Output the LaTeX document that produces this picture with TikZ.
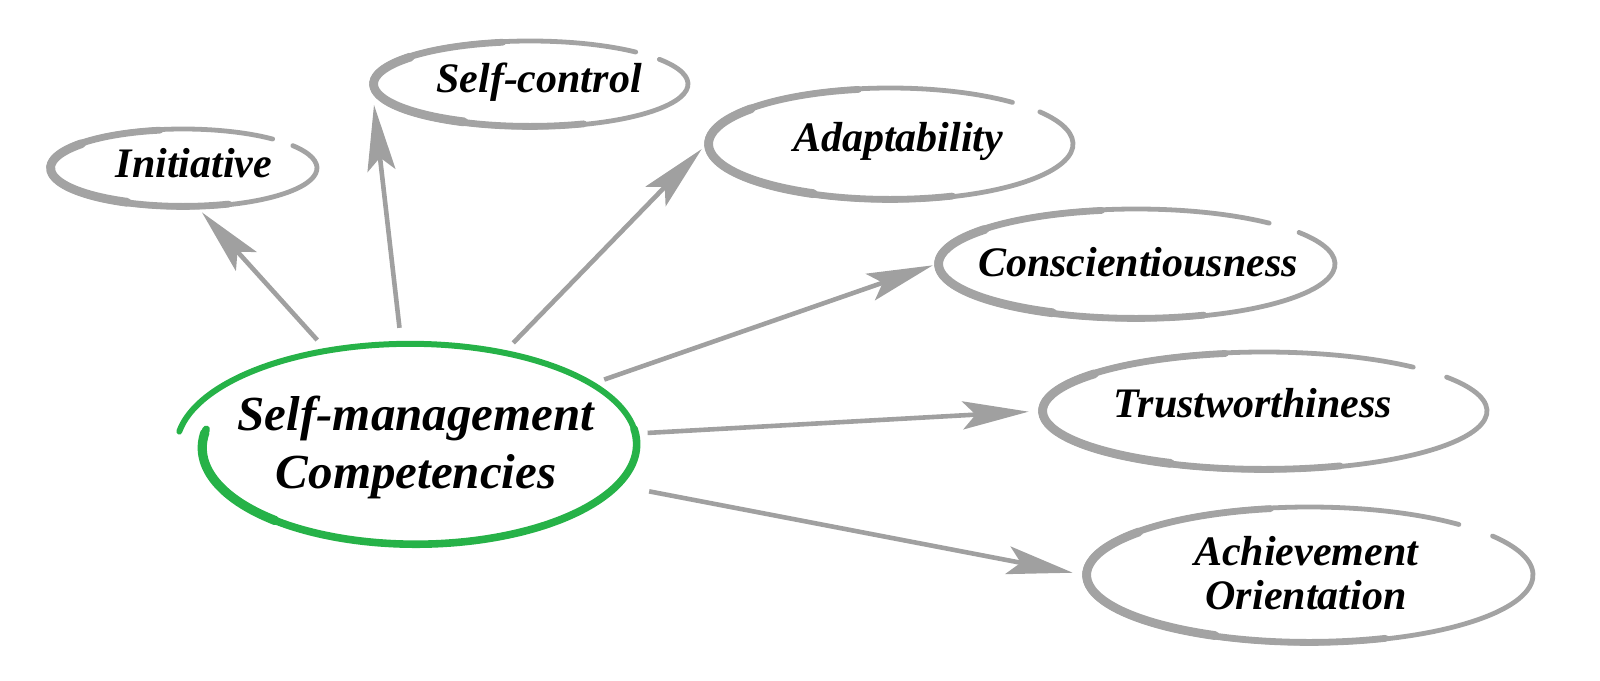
\documentclass[tikz,border=0pt]{standalone}
\usepackage{fontspec}
\setmainfont{Liberation Serif}
\usetikzlibrary{arrows.meta,shapes.geometric}
\definecolor{ringgray}{RGB}{163,163,163}
\definecolor{arrowgray}{RGB}{160,160,160}
\definecolor{brushgreen}{RGB}{38,178,72}

\begin{document}
\begin{tikzpicture}[x=0.5pt,y=-0.5pt,
    oval/.style={ellipse, inner sep=0pt},
    labeltext/.style={font=\fontsize{21}{22}\selectfont\bfseries\itshape, align=center},
    maintext/.style={font=\fontsize{24.5}{29}\selectfont\bfseries\itshape, align=center},
    ring/.style={draw=ringgray, line width=2.4pt, line cap=round},
    ringmid/.style={draw=ringgray, line width=3.4pt, line cap=round},
    ringthick/.style={draw=ringgray, line width=4.4pt, line cap=round},
    greenbrush/.style={draw=brushgreen, line cap=round},
    arr/.style={draw=arrowgray, line width=2.3pt, -{Stealth[length=33pt,width=14pt,inset=6.5pt]}}]
  \useasboundingbox (0,0) rectangle (1600,680);

  % the ovals
  \node [oval, minimum width=228pt, minimum height=101pt] (main)  at (413,446) {};
  \node [oval, minimum width=134pt, minimum height=39pt]  (init)  at (183,168) {};
  \node [oval, minimum width=158pt, minimum height=43pt]  (sc)    at (530,84)  {};
  \node [oval, minimum width=183pt, minimum height=56pt]  (adapt) at (890,144) {};
  \node [oval, minimum width=199pt, minimum height=55pt]  (consc) at (1136,264) {};
  \node [oval, minimum width=223pt, minimum height=59pt]  (trust) at (1264,411) {};
  \node [oval, minimum width=224pt, minimum height=68pt]  (ach)   at (1309,575) {};

  % brush strokes
  \draw [ring]      (init.center) ++(48:67pt and 19.5pt) arc[start angle=48, end angle=395, x radius=67pt, y radius=19.5pt];
  \draw [ringmid]   (init.center) ++(100:66.6pt and 19.2pt) arc[start angle=100, end angle=290, x radius=66.6pt, y radius=19.2pt];
  \draw [ringthick] (init.center) ++(140:66.2pt and 18.9pt) arc[start angle=140, end angle=245, x radius=66.2pt, y radius=18.9pt];
  \draw [ring]      (sc.center) ++(48:79pt and 21.5pt) arc[start angle=48, end angle=395, x radius=79pt, y radius=21.5pt];
  \draw [ringmid]   (sc.center) ++(100:78.6pt and 21.2pt) arc[start angle=100, end angle=290, x radius=78.6pt, y radius=21.2pt];
  \draw [ringthick] (sc.center) ++(140:78.2pt and 20.9pt) arc[start angle=140, end angle=245, x radius=78.2pt, y radius=20.9pt];
  \draw [ring]      (adapt.center) ++(48:91.5pt and 28pt) arc[start angle=48, end angle=395, x radius=91.5pt, y radius=28pt];
  \draw [ringmid]   (adapt.center) ++(100:91.1pt and 27.7pt) arc[start angle=100, end angle=290, x radius=91.1pt, y radius=27.7pt];
  \draw [ringthick] (adapt.center) ++(140:90.7pt and 27.4pt) arc[start angle=140, end angle=245, x radius=90.7pt, y radius=27.4pt];
  \draw [ring]      (consc.center) ++(48:99.5pt and 27.5pt) arc[start angle=48, end angle=395, x radius=99.5pt, y radius=27.5pt];
  \draw [ringmid]   (consc.center) ++(100:99.1pt and 27.2pt) arc[start angle=100, end angle=290, x radius=99.1pt, y radius=27.2pt];
  \draw [ringthick] (consc.center) ++(140:98.7pt and 26.9pt) arc[start angle=140, end angle=245, x radius=98.7pt, y radius=26.9pt];
  \draw [ring]      (trust.center) ++(48:111.5pt and 29.5pt) arc[start angle=48, end angle=395, x radius=111.5pt, y radius=29.5pt];
  \draw [ringmid]   (trust.center) ++(100:111.1pt and 29.2pt) arc[start angle=100, end angle=290, x radius=111.1pt, y radius=29.2pt];
  \draw [ringthick] (trust.center) ++(140:110.7pt and 28.9pt) arc[start angle=140, end angle=245, x radius=110.7pt, y radius=28.9pt];
  \draw [ring]      (ach.center) ++(48:112pt and 34pt) arc[start angle=48, end angle=395, x radius=112pt, y radius=34pt];
  \draw [ringmid]   (ach.center) ++(100:111.6pt and 33.7pt) arc[start angle=100, end angle=290, x radius=111.6pt, y radius=33.7pt];
  \draw [ringthick] (ach.center) ++(140:111.2pt and 33.4pt) arc[start angle=140, end angle=245, x radius=111.2pt, y radius=33.4pt];
  \draw [greenbrush, line width=3pt]
        plot[domain=172:-190, samples=140, smooth] ({413+(236-26*(172-\x)/362)*cos(\x)}, {446-(104-8*(172-\x)/362)*sin(\x)});
  \draw [greenbrush, line width=3.8pt]
        plot[domain=10:-190, samples=80, smooth] ({413+(236-26*(172-\x)/362)*cos(\x)}, {446-(104-8*(172-\x)/362)*sin(\x)});
  \draw [greenbrush, line width=4.6pt]
        plot[domain=-130:-188, samples=40, smooth] ({413+(236-26*(172-\x)/362)*cos(\x)}, {446-(104-8*(172-\x)/362)*sin(\x)});

  % labels
  \node [maintext]  (mainT)  at (416,447) {Self-management\\Competencies};
  \node [labeltext] (initT)  at (194,163) {Initiative};
  \node [labeltext] (scT)    at (539,82)  {Self-control};
  \node [labeltext] (adaptT) at (898,141) {Adaptability};
  \node [labeltext] (conscT) at (1138,262) {Conscientiousness};
  \node [labeltext] (trustT) at (1253,403) {Trustworthiness};
  \node [labeltext] (achT)   at (1306,573) {Achievement\\Orientation};

  % arrows
  \draw [arr, shorten <=8pt,   shorten >=3.5pt]  (main) -- (init.-70);
  \draw [arr, shorten <=8.5pt, shorten >=10.5pt] (main) -- (sc.west);
  \draw [arr, shorten <=7pt,   shorten >=3.5pt]  (main) -- (adapt.west);
  \draw [arr, shorten <=6pt,   shorten >=2pt]    (main) -- (consc.west);
  \draw [arr, shorten <=4pt,   shorten >=6pt]    (main) -- (trust.west);
  \draw [arr, shorten <=13.5pt, shorten >=6pt]   (main) -- (ach.west);
\end{tikzpicture}
\end{document}
